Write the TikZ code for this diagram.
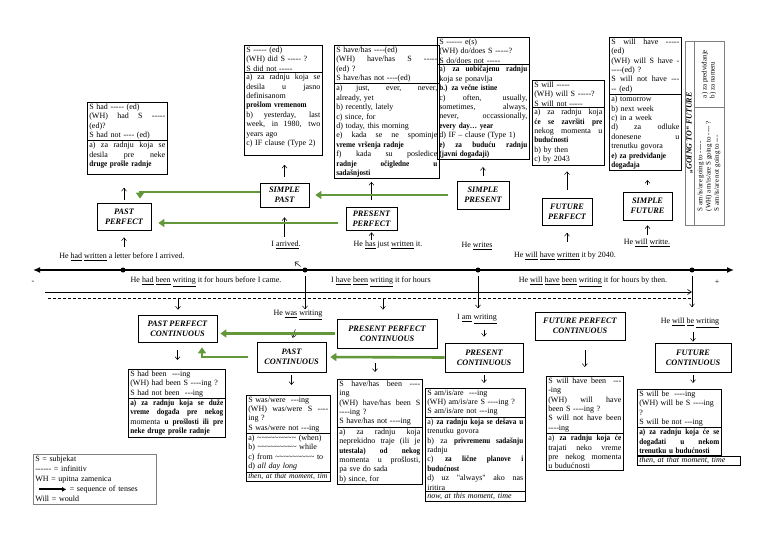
\documentclass[tikz,border=0pt]{standalone}
\usepackage{fontspec}
\setmainfont{Liberation Serif}[Ligatures=TeXOff]
\newfontfamily\heavy{Liberation Serif}[Ligatures=TeXOff, FakeStretch=0.9]
\usepackage{tikz}
\usetikzlibrary{positioning, arrows.meta, shapes.multipart}
\definecolor{seqgreen}{RGB}{98,152,58}
\definecolor{boxgray}{RGB}{128,128,128}
\newcommand{\jl}[1]{\makebox[\hsize][s]{\spaceskip=0pt\xspaceskip=0pt #1}}
\newcommand{\un}[1]{\underline{#1}}
\newcommand{\bd}[1]{{\heavy\bfseries #1}}
\newcommand{\wav}{\textasciitilde\textasciitilde\textasciitilde\textasciitilde\textasciitilde\textasciitilde\textasciitilde\textasciitilde\textasciitilde}

\begin{document}
\begin{tikzpicture}[x=1pt, y=-1pt,
  every node/.style={inner sep=1pt},
  tense/.style={draw, line width=0.7pt, align=center, inner sep=2pt,
    font=\fontsize{8.3}{9.8}\selectfont\bfseries\itshape},
  gram/.style={draw, line width=0.6pt, rectangle split, rectangle split parts=2,
    anchor=north west, align=left, inner xsep=2pt, inner ysep=1.2pt,
    font=\fontsize{8}{9.4}\selectfont},
  sent/.style={font=\fontsize{8}{9.4}\selectfont},
  tip/.style={-{Straight Barb[length=3pt,width=5pt]}, line width=0.5pt},
  seq/.style={-{Triangle[length=6pt,width=8pt]}, seqgreen, line width=2.6pt},
  dot/.style={circle, fill, inner sep=0pt, minimum size=5pt}]

\useasboundingbox (0,0) rectangle (768,543);

% upper half
\node[gram, text width=76pt] (ppg) at (87,102)
  {S had ----- (ed)\\ \jl{(WH) had S -----}\\ (ed)?\\ S had not ---- (ed)
   \nodepart{second}
   \jl{a) za radnju koja se}\\ \jl{desila pre neke}\\ \bd{druge prošle radnje}\\[-3pt]\mbox{}};
\node[gram, text width=74pt] (spg) at (244,45)
  {S ----- (ed)\\ (WH) did S ----- ?\\ S did not -----
   \nodepart{second}
   \jl{a) za radnju koja se}\\ \jl{desila u jasno}\\ definisanom\\ \bd{prošlom vremenom}\\
   \jl{b) yesterday, last}\\ \jl{week, in 1980, two}\\ years ago\\ c) IF clause (Type 2)\\[-1pt]\mbox{}};
\node[gram, text width=101pt] (prpg) at (334,45)
  {S have/has ----(ed)\\ \jl{(WH) have/has S -----}\\ (ed) ?\\ S have/has not ----(ed)
   \nodepart{second}
   \jl{a) just, ever, never,}\\ already, yet\\ b) recently, lately\\ c) since, for\\
   d) today, this morning\\ \jl{e) kada se ne spominje}\\ \bd{vreme vršenja radnje}\\
   \jl{f) kada su posledice}\\ \jl{\bd{radnje očigledne u}}\\ \bd{sadašnjosti}};
\node[gram, text width=88pt] (sprg) at (437,37)
  {S ------ e(s)\\ (WH) do/does S -----?\\ S do/does not -----
   \nodepart{second}
   \jl{a) \bd{za uobičajenu radnju}}\\ koja se ponavlja\\ \bd{b.) za večne istine}\\
   \jl{c) often, usually,}\\ \jl{sometimes, always,}\\ \jl{never, occassionally,}\\
   \bd{every day\dots{} year}\\ d) IF – clause (Type 1)\\ \jl{\bd{e) za buduću radnju}}\\
   \bd{(javni događaji)}};
\node[gram, text width=68pt] (fpg) at (532,80)
  {S will -----\\ (WH) will S -----?\\ S will not -----
   \nodepart{second}
   \jl{a) za radnju koja}\\ \jl{\bd{će se završiti pre}}\\ \jl{nekog momenta u}\\
   \bd{budućnosti}\\ b) by then\\ c) by 2043};
\node[gram, text width=68pt] (sfg) at (609,37)
  {\jl{S will have -----}\\ (ed)\\ \jl{(WH) will S have -}\\ ----(ed) ?\\ \jl{S will not have ---}\\ -- (ed)
   \nodepart{second}
   a) tomorrow\\ b) next week\\ c) in a week\\ \jl{d) za odluke}\\ \jl{donesene u}\\
   trenutku govora\\ \bd{e) za predviđanje}\\ \bd{događaja}};

\node[tense, minimum width=54pt, minimum height=27pt] (pp) at (124,216.5) {PAST\\PERFECT};
\node[tense, minimum width=49pt, minimum height=24pt] (sp) at (284.5,195) {SIMPLE\\PAST};
\node[tense, minimum width=51pt, minimum height=23pt] (prp) at (371.5,218.5) {PRESENT\\PERFECT};
\node[tense, minimum width=52pt, minimum height=28pt] (spr) at (483,195) {SIMPLE\\PRESENT};
\node[tense, minimum width=50pt, minimum height=27pt] (fp) at (567,212) {FUTURE\\PERFECT};
\node[tense, minimum width=49pt, minimum height=28pt] (sf) at (647.5,206) {SIMPLE\\FUTURE};

\draw[boxgray, line width=0.7pt] (685,41) rectangle (724,225);
\draw[boxgray, line width=0.7pt] (694,41) -- (694,225);
\draw[boxgray, line width=0.7pt] (694,107) -- (724,107);
\node[rotate=90, font=\fontsize{8}{9}\selectfont\bfseries\itshape] (gtt) at (689.5,133) {„GOING TO“ FUTURE};
\node[rotate=90, align=left, font=\fontsize{7}{8}\selectfont] (gtu) at (709,74) {a) za predviđanje\\b) za nameru};
\node[rotate=90, align=left, font=\fontsize{7}{8.3}\selectfont] (gtl) at (709,166)
  {S am/is/are going to -----\\(WH) am/is/are S going to ---- ?\\S am/is/are not going to ---};

\node[sent] (s1) at (122,257) {He \un{had} \un{written} a letter before I arrived.};
\node[sent] (s2) at (286,245) {I \un{arrived}.};
\node[sent] (s3) at (388,245) {He \un{has} just \un{written} it.};
\node[sent] (s4) at (477,246) {He \un{writes}};
\node[sent] (s5) at (565,256) {He \un{will} \un{have} \un{written} it by 2040.};
\node[sent] (s6) at (647,243) {He \un{will} \un{writte.}};

% time line
\coordinate (tL) at (33,270);
\coordinate (tR) at (734,270);
\draw[line width=1.6pt, {Latex[length=7pt,width=6pt]}-{Latex[length=7pt,width=6pt]}] (tL) -- (tR);
\node[dot] (d1) at (123,270) {};
\node[dot] (d2) at (305,270) {};
\node[dot] (d3) at (478,270) {};
\node[dot] (d4) at (692,270) {};
\node[sent] (minus) at (33,282) {-};
\node[sent] (plus) at (717,282) {+};
\node[sent] (s10) at (206,282) {He \un{had} \un{been} \un{writing} it for hours before I came.};
\node[sent] (s11) at (381,282) {I \un{have} \un{been} \un{writing} it for hours};
\node[sent] (s12) at (593,282) {He \un{will} \un{have} \un{been} \un{writing} it for hours by then.};
\coordinate (sL) at (45,292);
\coordinate (sR) at (692,292);
\draw[line width=0.6pt, -{Straight Barb[length=4pt,width=5pt]}] (sL) -- (sR);
\coordinate (dL) at (48,298);
\coordinate (dR) at (692,298);
\draw[line width=0.6pt, dash pattern=on 3pt off 2pt] (dL) -- (dR);
\coordinate (dA) at (178,298);
\coordinate (dB) at (383,298);

% lower half
\node[sent] (s7) at (298,315) {He \un{was} \un{writing}};
\node[sent] (s8) at (477,319) {I \un{am} \un{writing}};
\node[sent] (s9) at (690,323) {He \un{will} \un{be} \un{writing}};

\node[tense, minimum width=79pt, minimum height=27pt] (ppc) at (177.5,328.5) {PAST PERFECT\\CONTINUOUS};
\node[tense, minimum width=69pt, minimum height=30pt] (pc) at (291.5,357) {PAST\\CONTINUOUS};
\node[tense, minimum width=100pt, minimum height=29pt] (prpc) at (387,333.5) {PRESENT PERFECT\\CONTINUOUS};
\node[tense, minimum width=78pt, minimum height=29pt] (prc) at (484,357.5) {PRESENT\\CONTINUOUS};
\node[tense, minimum width=90pt, minimum height=28pt] (fpc) at (580,326) {FUTURE PERFECT\\CONTINUOUS};
\node[tense, minimum width=76pt, minimum height=29pt] (fc) at (693,357.5) {FUTURE\\CONTINUOUS};

\node[gram, text width=93pt] (ppcg) at (128,369)
  {S had been\ \ ---ing\\ (WH) had been S ----ing ?\\ S had not been\ \ ---ing
   \nodepart{second}
   \jl{\bd{a) za radnju koja se duže}}\\ \jl{\bd{vreme događa pre nekog}}\\
   \jl{momenta \bd{u prošlosti ili pre}}\\ \bd{neke druge prošle radnje}};
\node[gram, rectangle split parts=3, text width=80pt] (pcg) at (246,395)
  {S was/were\ \ ---ing\\ \jl{(WH) was/were S ----}\\ ing ?\\ S was/were not ---ing
   \nodepart{second}
   a) \wav{} (when)\\ b) \wav{} while\\ c) from \wav{} to\\ d) \textit{all day long}
   \nodepart{third}
   \mbox{\fontsize{7.6}{9.4}\selectfont\itshape then, at that moment, tim}};
\node[gram, text width=81pt] (prpcg) at (337,379)
  {\jl{S have/has been ----}\\ ing\\ \jl{(WH) have/has been S}\\ ----ing ?\\ S have/has not ----ing
   \nodepart{second}
   \jl{a) za radnju koja}\\ \jl{neprekidno traje (ili je}\\ \jl{\bd{utestala) od nekog}}\\
   \jl{momenta u prošlosti,}\\ pa sve do sada\\ b) since, for};
\node[gram, rectangle split parts=3, text width=96pt] (prcg) at (425,388)
  {S am/is/are\ \ ---ing\\ (WH) am/is/are S ----ing ?\\ S am/is/are not ---ing
   \nodepart{second}
   \jl{a) \bd{za radnju koja se dešava u}}\\ trenutku govora\\ \jl{b) za \bd{privremenu sadašnju}}\\
   radnju\\ \jl{c) \bd{za lične planove i}}\\ \bd{budućnost}\\ \jl{d) uz "always" ako nas}\\ iritira
   \nodepart{third}
   \textit{now, at this moment, time}};
\node[gram, text width=73pt] (fpcg) at (546,376)
  {\jl{S will have been\ \ ---}\\ -ing\\ \jl{(WH) will have}\\ been S ----ing ?\\ \jl{S will not have been}\\ ----ing
   \nodepart{second}
   \jl{a) \bd{za radnju koja će}}\\ \jl{trajati neko vreme}\\ \jl{pre nekog momenta}\\ u budućnosti};
\node[gram, text width=80pt] (fcg) at (637,389)
  {S will be\ \ ----ing\\ (WH) will be S ----ing\\ ?\\ S will be not ---ing
   \nodepart{second}
   \jl{\bd{a) za radnju koja će se}}\\ \jl{\bd{događati u nekom}}\\ \bd{trenutku u budućnosti}};
\node[draw, line width=0.6pt, anchor=north west, text width=99pt, inner xsep=2pt, inner ysep=1.2pt,
  align=left, font=\fontsize{8}{9.4}\selectfont\itshape] (fcx) at (fcg.south west) {then, at that moment, time};

\node[draw=boxgray, line width=0.6pt, anchor=north west, align=left, text width=119pt, inner sep=2pt,
  font=\fontsize{8}{10}\selectfont] (leg) at (33,454)
  {S = subjekat\\ ------ = infinitiv\\ WH = upitna zamenica\\
   \hspace*{3pt}\tikz[baseline=-2.5pt]\draw[line width=1.8pt,-{Latex[length=4pt,width=5pt]}] (0pt,0pt) -- (27pt,0pt);
   = sequence of tenses\\ Will = would};

% connectors, upper half
\draw[tip, shorten <=3pt, shorten >=13pt] (pp.north) -- (pp.north |- ppg.south);
\draw[tip, shorten <=5pt, shorten >=7pt] (s1.north -| pp.south) -- (pp.south);
\draw[tip, shorten <=6pt, shorten >=9pt] (sp.north) -- (sp.north |- spg.south);
\draw[tip, shorten <=3pt, shorten >=10pt] (s2.north -| sp.south) -- (sp.south);
\draw[tip, shorten <=7pt, shorten >=3pt] (prp.north) -- (prp.north |- prpg.south);
\draw[tip, shorten >=2pt] (s3.north -| prp.south) -- (prp.south);
\draw[tip, shorten <=5pt, shorten >=7pt] (spr.north) -- (spr.north |- sprg.south);
\draw[tip, shorten <=8pt, shorten >=6pt] (fp.north) -- (fp.north |- fpg.south);
\draw[tip, shorten <=9pt, shorten >=7pt] (s5.north -| fp.south) -- (fp.south);
\draw[tip, shorten <=7pt, shorten >=9pt] (sf.north) -- (sf.north |- sfg.south);
\draw[tip, shorten <=3pt, shorten >=5pt] (s6.north -| sf.south) -- (sf.south);
\draw[tip, shorten <=3pt, shorten >=6pt] (d2) -- ([xshift=4pt,yshift=-8pt]s2.south);

\draw[seq, shorten >=4pt] ([yshift=3pt]sp.west) -| ([xshift=16pt]pp.north);
\draw[seq, shorten <=9pt, shorten >=6pt] (spr.west) -- (sp.east);
\draw[seq, shorten <=8pt, shorten >=7pt] ([yshift=-4.5pt]prp.west) -- ([yshift=-4.5pt]prp.west -| pp.east);

% connectors, lower half
\draw[tip, shorten >=5pt] (dA) -- (dA |- ppc.north);
\draw[tip, shorten >=9pt] (dB) -- (dB |- prpc.north);
\draw[tip, shorten <=3pt] (d2) -- (d2 |- s7.north);
\draw[tip, shorten <=9pt, shorten >=4pt] (s7.south) -- (pc.north);
\draw[tip, shorten <=3pt, shorten >=5pt] (d3) -- (d3 |- s8.north);
\draw[tip, shorten <=5pt, shorten >=6pt] (s8.south -| prc.north) -- (prc.north);
\draw[tip, shorten <=3pt, shorten >=10pt] (d4) -- (d4 |- s9.north);
\draw[tip, shorten <=3pt, shorten >=1pt] (fc.north |- s9.south) -- (fc.north);
\draw[tip, shorten <=8pt, shorten >=9pt] (ppc.south) -- (ppc.south |- ppcg.north);
\draw[tip, shorten <=3pt, shorten >=10pt] (pc.south) -- (pc.south |- pcg.north);
\draw[tip, shorten <=15pt, shorten >=7pt] ([xshift=-12pt]prpc.south) -- ([xshift=-12pt]prpc.south |- prpcg.north);
\draw[tip, shorten <=3pt, shorten >=5pt] (prc.south) -- (prc.south |- prcg.north);
\draw[tip, shorten <=10pt, shorten >=9pt] (fpcg.north |- fpc.south) -- (fpcg.north);
\draw[tip, shorten <=3pt, shorten >=6pt] (fc.south) -- (fc.south |- fcg.north);

\draw[seq, shorten <=2pt, shorten >=3pt] (prpc.west) -- (prpc.west -| ppc.east);
\draw[seq, shorten >=4pt] (prc.west) -- (pc.east);
\draw[seq, shorten <=9pt, shorten >=5pt] (pc.west) -| ([xshift=24.5pt]ppc.south);
\end{tikzpicture}
\end{document}
